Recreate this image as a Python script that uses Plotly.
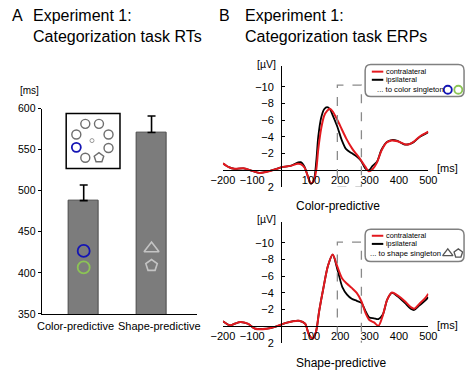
import plotly.graph_objects as go

W, H = 474, 378
FONT = "Liberation Sans, Arial, sans-serif"

# ---------------- data ----------------
rt_categories = ["Color-predictive", "Shape-predictive"]
rt_means = [488, 571]
rt_errors = [19, 20]
rt_ticks = [350, 400, 450, 500, 550, 600]

erp_time_ticks = [-200, -100, 100, 200, 300, 400, 500]
erp_volt_ticks = [-10, -8, -6, -4, -2, 2]
n2pc_window = [190, 272]

color_t = [-200, -180, -160, -130, -100, -75, -50, -20, 0, 30, 55, 65, 78, 88, 100, 110, 118,
           125, 135, 145, 155, 165, 175, 190, 205, 220, 240, 255, 270, 285, 297, 310, 325, 340,
           358, 375, 395, 420, 435, 450, 470, 500]
color_contra = [-0.8, -0.35, -0.15, -0.2, 0.1, 0.35, 0.2, -0.1, -0.35, -0.5, -0.75, -0.7, -0.3, 0.6,
                1.6, 1.3, 0.0, -2.5, -5.0, -6.5, -7.1, -7.35, -7.0, -6.0, -4.9, -3.8, -2.6, -1.9,
                -1.2, -0.4, 0.15, -0.1, -0.9, -2.3, -3.3, -3.55, -3.45, -3.1, -3.1, -3.4, -4.0, -4.6]
color_ipsi = [-0.8, -0.35, -0.15, -0.2, 0.1, 0.35, 0.2, -0.1, -0.35, -0.5, -0.9, -0.95, -0.4, 0.6,
              1.65, 1.2, -1.0, -4.0, -6.3, -7.3, -7.55, -7.3, -6.5, -5.2, -3.6, -2.5, -2.0, -1.65,
              -1.15, -0.2, 0.05, -0.5, -1.0, -2.4, -3.35, -3.6, -3.5, -3.05, -3.1, -3.35, -3.95, -4.55]

shape_t = [-200, -175, -160, -140, -115, -90, -50, -20, 15, 60, 80, 93, 106, 117, 128, 142, 158,
           174, 191, 207, 223, 239, 256, 272, 286, 299, 315, 330, 345, 360, 376, 395, 420, 440,
           452, 470, 490, 500]
shape_contra = [-0.6, -0.1, -0.3, -0.5, -0.3, 0.3, 0.3, 0.05, -0.4, -0.65, -0.3, 1.0, 1.5, 0.7,
                -1.8, -4.5, -7.25, -8.6, -7.05, -5.7, -5.1, -4.6, -4.0, -3.0, -1.6, -0.75, -0.45,
                -0.05, -1.3, -3.2, -4.05, -3.7, -3.0, -2.3, -2.1, -2.7, -3.4, -3.9]
shape_ipsi = [-0.6, -0.1, -0.3, -0.5, -0.3, 0.3, 0.3, 0.05, -0.4, -0.65, -0.3, 1.0, 1.5, 0.7,
              -1.8, -4.5, -7.25, -8.6, -6.7, -4.7, -3.8, -3.3, -3.05, -2.8, -1.8, -1.05, -0.95,
              -0.85, -1.4, -3.2, -4.0, -3.6, -2.8, -2.1, -1.95, -2.5, -3.1, -3.5]


def px(x):
    return x / W


def py(y):
    return 1 - y / H


fig = go.Figure()

# ---------------- Panel A: bars ----------------
fig.add_trace(go.Bar(
    x=[0, 1], y=rt_means, width=0.45, base=0,
    marker=dict(color="#7c7c7c", line=dict(color="#4a4a4a", width=1)),
    error_y=dict(type="data", symmetric=False, array=rt_errors, arrayminus=[0, 0],
                 color="black", thickness=1.6, width=4),
    xaxis="x", yaxis="y", showlegend=False))

# ---------------- Panel B: ERPs ----------------
RED = "#e3191f"
fig.add_trace(go.Scatter(x=color_t, y=color_ipsi, mode="lines", line=dict(color="black", width=1.8, shape="spline", smoothing=0.8),
                         xaxis="x2", yaxis="y2", showlegend=False))
fig.add_trace(go.Scatter(x=color_t, y=color_contra, mode="lines", line=dict(color=RED, width=2, shape="spline", smoothing=0.8),
                         xaxis="x2", yaxis="y2", showlegend=False))
fig.add_trace(go.Scatter(x=shape_t, y=shape_ipsi, mode="lines", line=dict(color="black", width=1.8, shape="spline", smoothing=0.8),
                         xaxis="x3", yaxis="y3", showlegend=False))
fig.add_trace(go.Scatter(x=shape_t, y=shape_contra, mode="lines", line=dict(color=RED, width=2, shape="spline", smoothing=0.8),
                         xaxis="x3", yaxis="y3", showlegend=False))

# ---------------- icons (overlay pixel axis) ----------------
GRAY = "#6e6e6e"
BLUE = "#1414b4"
GREEN = "#8cc455"
LGRAY = "#c4c4c4"
icons = [
    # inset search display
    (76.7, 121.7, "circle-open", 9, GRAY, 1.4),
    (91, 121.7, "circle-open", 9, GRAY, 1.4),
    (101, 132.7, "circle-open", 9, GRAY, 1.4),
    (101, 146.7, "circle-open", 9, GRAY, 1.4),
    (91, 156.7, "pentagon-open", 10, GRAY, 1.4),
    (76.7, 156.7, "circle-open", 9, GRAY, 1.4),
    (67.3, 146, "circle-open", 9, BLUE, 1.8),
    (67.3, 132.7, "circle-open", 9, GRAY, 1.4),
    (83.7, 139, "circle-open", 4, "#999999", 1),
    # in-bar symbols
    (75, 253, "circle-open", 12, BLUE, 1.8),
    (75, 270, "circle-open", 12, GREEN, 1.8),
    (146, 250.5, "triangle-up-open", 13, LGRAY, 1.6),
    (146, 268, "pentagon-open", 12, LGRAY, 1.6),
    # legend symbols
    (456, 86.5, "circle-open", 8, BLUE, 1.8),
    (467, 86.5, "circle-open", 8, GREEN, 1.8),
    (456, 255.5, "triangle-up-open", 9, "#555555", 1.3),
    (467, 255.5, "pentagon-open", 9, "#555555", 1.3),
]
for (ix, iy, sym, sz, col, lw) in icons:
    fig.add_trace(go.Scatter(x=[ix], y=[iy], mode="markers",
                             marker=dict(symbol=sym, size=sz, color=col, line=dict(color=col, width=lw)),
                             xaxis="x4", yaxis="y4", showlegend=False, cliponaxis=False, hoverinfo="skip"))

shapes = []
# inset box
shapes.append(dict(type="rect", xref="paper", yref="paper", x0=px(56.7), x1=px(113), y0=py(167.7), y1=py(111),
                   line=dict(color="black", width=1.5), layer="above"))
# dashed windows
shapes.append(dict(type="rect", xref="x2", yref="y2", x0=n2pc_window[0], x1=n2pc_window[1], y0=2.05, y1=-10.2,
                   line=dict(color="#8a8a8a", width=1.3, dash="dash"), layer="above"))
shapes.append(dict(type="rect", xref="x3", yref="y3", x0=n2pc_window[0], x1=n2pc_window[1], y0=2.1, y1=-10.1,
                   line=dict(color="#8a8a8a", width=1.3, dash="dash"), layer="above"))


def rounded_box(x0, y0, x1, y1, r):
    pts = []
    X = lambda v: f"{px(v):.5f}"
    Y = lambda v: f"{py(v):.5f}"
    pts.append(f"M {X(x0 + r)},{Y(y0)}")
    pts.append(f"L {X(x1 - r)},{Y(y0)}")
    pts.append(f"Q {X(x1)},{Y(y0)} {X(x1)},{Y(y0 + r)}")
    pts.append(f"L {X(x1)},{Y(y1 - r)}")
    pts.append(f"Q {X(x1)},{Y(y1)} {X(x1 - r)},{Y(y1)}")
    pts.append(f"L {X(x0 + r)},{Y(y1)}")
    pts.append(f"Q {X(x0)},{Y(y1)} {X(x0)},{Y(y1 - r)}")
    pts.append(f"L {X(x0)},{Y(y0 + r)}")
    pts.append(f"Q {X(x0)},{Y(y0)} {X(x0 + r)},{Y(y0)} Z")
    return " ".join(pts)


for (by0, by1) in [(60.5, 93.5), (230.5, 264)]:
    shapes.append(dict(type="path", xref="paper", yref="paper", path=rounded_box(369.5, by0, 473, by1, 6),
                       line=dict(color="#808080", width=1.5), layer="above"))

# legend line samples
for (ly, col) in [(67.8, RED), (76.2, "black"), (237.3, RED), (245.7, "black")]:
    shapes.append(dict(type="line", xref="paper", yref="paper", x0=px(376.5), x1=px(388.5), y0=py(ly), y1=py(ly),
                       line=dict(color=col, width=2), layer="above"))

ann = []


def text(x, y, s, size, xanchor="left", yanchor="middle", color="black"):
    ann.append(dict(x=px(x), y=py(y), xref="paper", yref="paper", text=s, showarrow=False,
                    xanchor=xanchor, yanchor=yanchor, font=dict(family=FONT, size=size, color=color), borderpad=0))


text(-1, 9.5, "A", 16)
text(21, 9.5, "Experiment 1:", 16)
text(21, 31, "Categorization task RTs", 16)
text(216, 9.5, "B", 16)
text(243, 9.5, "Experiment 1:", 16)
text(243, 31, "Categorization task ERPs", 16)

text(18, 87, "[ms]", 10, xanchor="center")
text(66, 331, rt_categories[0], 11, xanchor="center")
text(154, 331, rt_categories[1], 11, xanchor="center")

text(266, 60, "[µV]", 10.5, xanchor="center")
text(266, 220, "[µV]", 10.5, xanchor="center")
text(456, 167, "[ms]", 11, xanchor="center")
text(456, 329, "[ms]", 11, xanchor="center")
text(341, 207, "Color-predictive", 12, xanchor="center")
text(344, 369, "Shape-predictive", 12, xanchor="center")

LF = 7.3
text(390.5, 67.8, "contralateral", LF)
text(390.5, 76.2, "ipsilateral", LF)
text(381, 86.5, "... to color singleton", LF + 0.4)
text(390.5, 237.3, "contralateral", LF)
text(390.5, 245.7, "ipsilateral", LF)
text(374, 255.5, "... to shape singleton", LF + 0.4)

common_axis = dict(showgrid=False, zeroline=False, linecolor="black", linewidth=1,
                   tickfont=dict(family=FONT, size=11, color="black"), fixedrange=True)

fig.update_layout(
    width=W, height=H, margin=dict(l=0, r=0, t=0, b=0),
    paper_bgcolor="white", plot_bgcolor="rgba(0,0,0,0)",
    font=dict(family=FONT, color="black"),
    showlegend=False,
    bargap=0,
    xaxis=dict(domain=[px(31), px(194)], range=[-0.62, 1.676], showline=True, showticklabels=False,
               ticks="", anchor="y", **common_axis),
    yaxis=dict(domain=[py(318), py(106)], range=[350, 600], tickvals=rt_ticks, ticks="outside", ticklen=3,
               tickcolor="black", showline=True, anchor="x", **{**common_axis, "tickfont": dict(family=FONT, size=10.5, color="black")}),
    xaxis2=dict(domain=[px(220.7), px(435.6)], range=[-200, 500], showline=True, ticks="",
                tickvals=erp_time_ticks, anchor="free", position=py(169.4), **common_axis),
    yaxis2=dict(domain=[py(186.6), py(61.9)], range=[2, -12.5], showline=True, ticks="inside", ticklen=3,
                tickcolor="black", tickvals=erp_volt_ticks, anchor="free", position=px(281.5),
                ticklabelstandoff=5, **common_axis),
    xaxis3=dict(domain=[px(220.7), px(435.6)], range=[-200, 500], showline=True, ticks="",
                tickvals=erp_time_ticks, anchor="free", position=py(330.7), **common_axis),
    yaxis3=dict(domain=[py(347.9), py(223.2)], range=[2, -12.5], showline=True, ticks="inside", ticklen=3,
                tickcolor="black", tickvals=erp_volt_ticks, anchor="free", position=px(281.5),
                ticklabelstandoff=5, **common_axis),
    xaxis4=dict(domain=[0, 1], range=[0, W], visible=False, anchor="y4", fixedrange=True),
    yaxis4=dict(domain=[0, 1], range=[H, 0], visible=False, anchor="x4", fixedrange=True),
    shapes=shapes,
    annotations=ann,
)

fig.write_html("out.html")
